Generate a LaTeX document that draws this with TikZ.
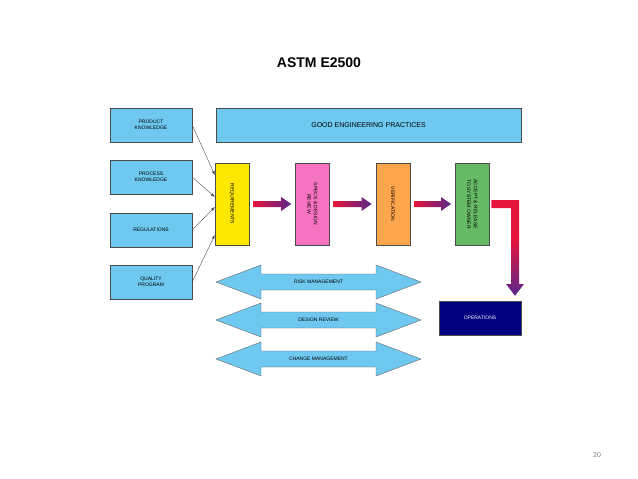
\documentclass[tikz,border=0pt]{standalone}
\usepackage{fontspec}
\setmainfont{Liberation Sans}
\usetikzlibrary{positioning,calc}
\definecolor{boxblue}{RGB}{110,200,240}
\definecolor{flowred}{RGB}{230,20,60}
\definecolor{flowpurple}{RGB}{90,40,140}
\tikzset{
    info/.style={draw=black!70, fill=boxblue, minimum width=82, minimum height=34, align=center, font=\fontsize{5}{5.5}\selectfont},
    phase/.style={draw=black!70, minimum width=34, minimum height=82, align=center, font=\fontsize{5}{5.5}\selectfont},
    feed/.style={->, >=latex, black!70, thin},
    flow/.style={left color=flowred, right color=flowpurple},
    both/.style={draw=black!60, fill=boxblue},
    mlabel/.style={font=\fontsize{5}{5.5}\selectfont}
}
\newcommand{\mgmtarrow}[3]{%
    \draw[both] (216,#2) -- (261,#2-17) -- (261,#2-8) -- (376,#2-8) -- (376,#2-17) -- (421,#2)
        -- (376,#2+17) -- (376,#2+8) -- (261,#2+8) -- (261,#2+17) -- cycle;
    \node[mlabel] (#1) at (318.5,#2) {#3};
}
\begin{document}
\begin{tikzpicture}[x=1pt, y=-1pt]
\useasboundingbox (0,0) rectangle (638,479);

\node[font=\fontsize{14}{16}\selectfont\bfseries] (title) at (319,63) {ASTM E2500};

% input boxes
\node[info] (prod) at (151,125) {PRODUCT\\KNOWLEDGE};
\node[info] (proc) at (151,177) {PROCESS\\KNOWLEDGE};
\node[info] (regs) at (151,230) {REGULATIONS};
\node[info] (qual) at (151,282) {QUALITY\\PROGRAM};

\node[info, minimum width=305, font=\fontsize{7}{8}\selectfont] (gep) at (368.5,125) {GOOD ENGINEERING PRACTICES};

% phases
\node[phase, fill=yellow!90!orange] (req) at (232,204) {\rotatebox{-90}{REQUIREMENTS}};
\node[phase, fill=magenta!55, right=46 of req] (spec) {\rotatebox{-90}{\shortstack{SPECS \& DESIGN\\REVIEW}}};
\node[phase, fill=orange!70, right=46 of spec] (verif) {\rotatebox{-90}{VERIFICATION}};
\node[phase, fill=green!55!black!60, right=45 of verif] (acc) {\rotatebox{-90}{\shortstack{ACCEPT \& RELEASE\\TO SYSTEM OWNER}}};

\node[info, fill=blue!50!black, text=white] (ops) at (480,318) {OPERATIONS};

\draw[feed] (prod.east) -- ([yshift=29]req.west);
\draw[feed] (proc.east) -- ([yshift=7]req.west);
\draw[feed] (regs.east) -- ([yshift=-3]req.west);
\draw[feed] (qual.east) -- ([yshift=-31]req.west);

% flow arrows
\foreach \a/\b in {req/spec, spec/verif, verif/acc} {
    \path[flow] ($(\a.east)+(4,-3)$) -- ($(\b.west)+(-14,-3)$) -- ($(\b.west)+(-14,-7)$)
        -- ($(\b.west)+(-4,0)$) -- ($(\b.west)+(-14,7)$) -- ($(\b.west)+(-14,3)$)
        -- ($(\a.east)+(4,3)$) -- cycle;
}
\coordinate (bend) at (ops.north -| 515,0);
\fill[flowred] ($(acc.east)+(2,-4)$) -- (519,200) -- (519,240) -- (511,240) -- (511,208) -- ($(acc.east)+(2,4)$) -- cycle;
\path[top color=flowred, bottom color=flowpurple] (519,239) -- (519,284) -- (524,284) -- ($(bend)+(0,-5)$) -- (506,284) -- (511,284) -- (511,239) -- cycle;

% management arrows
\mgmtarrow{risk}{282}{RISK MANAGEMENT}
\mgmtarrow{des}{320}{DESIGN REVIEW}
\mgmtarrow{chg}{359}{CHANGE MANAGEMENT}

\node[text=black!50, font=\fontsize{7}{8}\selectfont] (page) at (597,455) {20};
\end{tikzpicture}
\end{document}
